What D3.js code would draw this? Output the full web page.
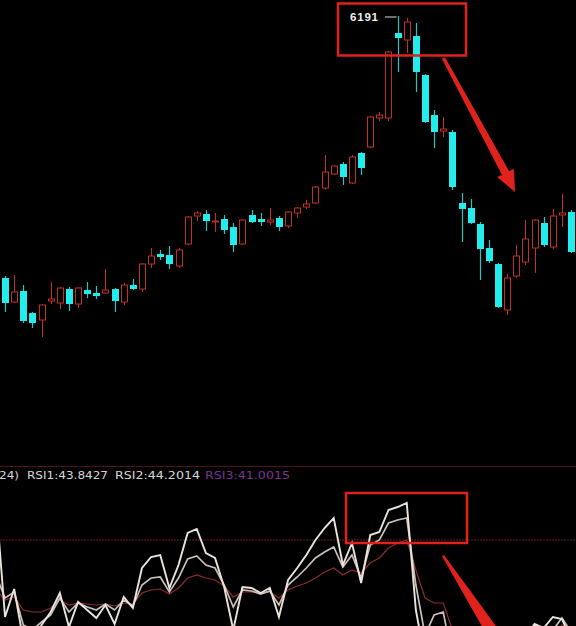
<!DOCTYPE html>
<html><head><meta charset="utf-8">
<script src="https://cdn.jsdelivr.net/npm/d3@7/dist/d3.min.js"></script>
<style>body{margin:0;background:#000;overflow:hidden}svg{display:block}</style>
</head><body>
<svg id="c" width="576" height="626"></svg>
<script>
// ---- data ----
const open = [4135,4095,3903,3991,3815,3759,3911,3895,4007,3887,
  3999,3975,3975,4007,3903,4039,4007,4207,4287,4279,
  4191,4367,4591,4607,4543,4567,4503,4367,4599,4567,
  4543,4575,4511,4615,4663,4695,4815,4927,5007,4855,
  5095,5143,5375,5375,6055,5999,6031,5719,5399,5271,
  5263,4695,4655,4527,4335,4207,3839,4111,4223,4335,
  4535,4343,4599,4623];
const close = [4159,3895,3983,3751,3735,3879,3927,4015,3887,4015,
  3967,3951,3999,3911,4039,4007,4207,4271,4263,4207,
  4319,4583,4615,4551,4551,4479,4359,4559,4543,4543,
  4559,4503,4623,4655,4687,4823,4943,4991,4903,5063,
  4975,5383,5399,5903,6015,6143,5743,5343,5263,5287,
  4823,4647,4535,4327,4231,3863,4095,4271,4407,4559,
  4359,4591,4615,4303];
const high = [4175,4111,4119,4039,3823,3887,4063,4023,4023,4023,
  4063,4031,4167,4015,4055,4087,4215,4335,4319,4351,
  4335,4591,4631,4639,4615,4599,4535,4567,4639,4615,
  4655,4591,4631,4663,4719,4831,5079,4999,5023,5079,
  5103,5391,5423,5911,6191,6175,6135,5727,5439,5383,
  5279,4775,4727,4543,4399,4215,4127,4359,4559,4567,
  4583,4647,4767,4639];
const low = [4119,3823,3895,3735,3695,3623,3887,3847,3831,3855,
  3935,3927,3967,3823,3879,3999,3983,4175,4239,4167,
  4175,4359,4551,4471,4463,4447,4303,4359,4535,4511,
  4519,4471,4495,4575,4647,4687,4799,4919,4839,4847,
  4919,5135,5351,5351,5743,5895,5583,5335,5135,5223,
  4799,4383,4527,4079,4215,3855,3799,4095,4199,4135,
  4343,4327,4503,4295];
const rsi1 = [100,41.5,55.5,30,29,37.5,44,53.5,36.5,49,
  45,41,47.5,38,51.5,46,66,71.5,72.5,56,
  67.5,83.5,85.5,73.5,71,56.5,35,56.5,56,53.5,
  56,41.5,60,66,72.5,80,86,91,67.5,78.5,
  58.5,82.5,84,95,96.5,98.5,45,20,25,30,
  8,12,14,6,9,3,18,28,32,38,
  36,41.5,40.5,30];
const rsi2 = [62.5,51,54,37.5,35,39,42.5,51,44,48.5,
  46.5,45,48,45,50,47,57.5,61,61.5,54,
  61,70.5,72,67.5,66,57.5,46.5,55,54.5,53,
  54.5,47.5,57.5,61.5,66,71,74,76.5,66.5,72.5,
  61,77.5,80,88.5,90,91,57.5,32.5,42.5,44,
  20,15,15,8,8,4,12,18,24,30,
  30,35,41,34];
const rsi3 = [55,50,51.5,45,44,44,46,50,47.5,48.5,
  48,47.5,48,47,48.5,48,53.5,55,55.5,53,
  56,61,62.5,61,60,57,51.5,54,54,53.5,
  54,51,55,57,58.5,61,64,66,62.5,65,
  63.5,68.5,71,76,78.5,80,65,51,48.5,48.5,
  35,30,27.5,22.5,21,16,17.5,21,24,27.5,
  27.5,31,37.5,34];
const rsiLevel = 80;
const peakLabel = "6191";
const peakIndex = 44;
const headerTexts = ["24)", "RSI1:43.8427", "RSI2:44.2014", "RSI3:41.0015"];

// ---- drawing ----
const svg = d3.select("#c");
svg.append("rect").attr("width",576).attr("height",626).attr("fill","#000");

const idx = d3.range(open.length);
const x = d3.scaleLinear().domain([0, open.length-1]).range([-4.1, 571.1]);
const y = d3.scaleLinear().domain([3000, 6191]).range([414.9, 16]);
const yr = d3.scaleLinear().domain([0, 100]).range([700, 500]);

const RED = "#bd3129", CY = "#22ecec", CYW = "#27c4c4";
const defs = svg.append("defs");
defs.append("clipPath").attr("id","top").append("rect").attr("x",0).attr("y",0).attr("width",576).attr("height",462);
defs.append("clipPath").attr("id","bot").append("rect").attr("x",0).attr("y",467).attr("width",576).attr("height",159);

const gTop = svg.append("g").attr("clip-path","url(#top)");
const candles = gTop.selectAll("g.cd").data(idx).join("g").attr("class","cd");
candles.each(function(i){
  const g = d3.select(this);
  const cx = Math.round(x(i)) + 0.5;
  const up = close[i] >= open[i];
  const top = y(Math.max(open[i], close[i])), bot = y(Math.min(open[i], close[i]));
  if (up) {
    g.append("line").attr("x1",cx).attr("x2",cx).attr("y1",y(high[i])).attr("y2",top).attr("stroke",RED).attr("stroke-width",1);
    g.append("line").attr("x1",cx).attr("x2",cx).attr("y1",bot).attr("y2",y(low[i])).attr("stroke",RED).attr("stroke-width",1);
    g.append("rect").attr("x",cx-3).attr("y",top).attr("width",6).attr("height",Math.max(1,bot-top))
      .attr("fill","none").attr("stroke",RED).attr("stroke-width",1);
  } else {
    g.append("line").attr("x1",cx).attr("x2",cx).attr("y1",y(high[i])).attr("y2",y(low[i])).attr("stroke",CYW).attr("stroke-width",1.2);
    g.append("rect").attr("x",cx-3.5).attr("y",top).attr("width",7).attr("height",Math.max(2,bot-top)).attr("fill",CY);
  }
});

// peak label
const px = x(peakIndex);
svg.append("text").attr("x",350).attr("y",21).text(peakLabel)
  .attr("fill","#eeeeee").attr("font-family","Liberation Sans, Arial, sans-serif")
  .attr("font-weight","bold").attr("font-size",11.5).attr("letter-spacing",0.8);
svg.append("line").attr("x1",385).attr("x2",px-1).attr("y1",y(high[peakIndex])+1).attr("y2",y(high[peakIndex])+1)
  .attr("stroke","#dddddd").attr("stroke-width",1);

// red annotation boxes + arrows
svg.append("rect").attr("x",338).attr("y",3.5).attr("width",128).attr("height",52)
  .attr("fill","none").attr("stroke","#e0221c").attr("stroke-width",2.5);
svg.append("polygon").attr("points","444,57 446,59 509,171 514,169 515,192 497,177 502,175 442,59")
  .attr("fill","#e0221c");

// separator
svg.append("line").attr("x1",0).attr("x2",576).attr("y1",466.5).attr("y2",466.5).attr("stroke","#4a1616").attr("stroke-width",1);

// header texts
const hx = [-1, 27, 115, 205], hw = [20, 81, 85, 85];
headerTexts.forEach((t,k)=>{
  svg.append("text").attr("x",hx[k]).attr("y",479).text(t)
    .attr("fill", k===3 ? "#7c3490" : "#d6d6d6")
    .attr("font-family","DejaVu Sans, sans-serif").attr("font-size",11)
    .attr("textLength",hw[k]).attr("lengthAdjust","spacingAndGlyphs");
});

// RSI panel
const gBot = svg.append("g").attr("clip-path","url(#bot)");
gBot.append("line").attr("x1",0).attr("x2",576).attr("y1",yr(rsiLevel)).attr("y2",yr(rsiLevel))
  .attr("stroke","#6a1c1c").attr("stroke-width",1).attr("stroke-dasharray","2,1");
const line = arr => d3.line().x(i=>x(i)).y(i=>yr(arr[i]))(idx);
gBot.append("path").attr("d",line(rsi3)).attr("fill","none").attr("stroke","#8e2c2c").attr("stroke-width",1.2);
gBot.append("path").attr("d",line(rsi2)).attr("fill","none").attr("stroke","#c9c1b9").attr("stroke-width",1.7);
gBot.append("path").attr("d",line(rsi1)).attr("fill","none").attr("stroke","#ebe4dc").attr("stroke-width",1.9);

svg.append("rect").attr("x",346).attr("y",493).attr("width",121).attr("height",50)
  .attr("fill","none").attr("stroke","#e0221c").attr("stroke-width",2.5);
svg.append("polygon").attr("points","442,556 444,555 496,626 484,630")
  .attr("fill","#e0221c");
</script>
</body></html>
